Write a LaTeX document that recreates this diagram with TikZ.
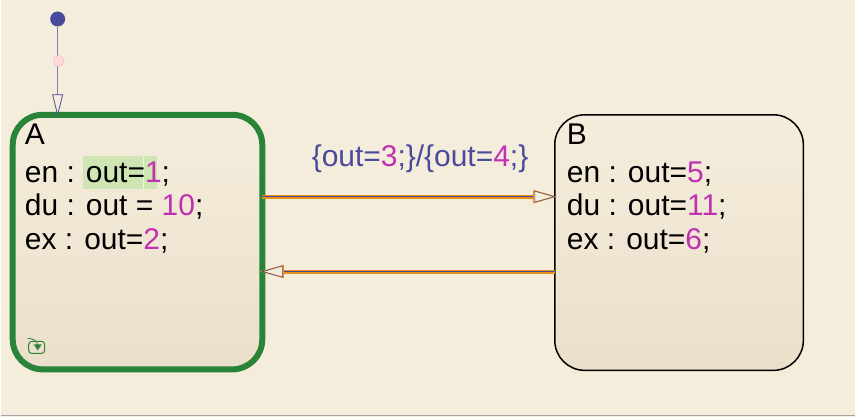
\documentclass[tikz,border=0pt]{standalone}
\usepackage{fontspec}
\setmainfont{Liberation Sans}
\usetikzlibrary{arrows.meta}
\definecolor{bg}{HTML}{F5EDDC}
\definecolor{bot}{HTML}{EADFCA}
\definecolor{sgreen}{HTML}{2A8438}
\definecolor{mag}{HTML}{C030B0}
\definecolor{tblue}{HTML}{4A4A9C}
\definecolor{orng}{HTML}{E8901A}
\definecolor{hl}{HTML}{CFE6B4}
\newcommand{\nm}[1]{\textcolor{mag}{#1}}
\begin{document}
\begin{tikzpicture}[x=1pt,y=-1pt,
  state/.style={rounded corners=30pt, top color=bg, bottom color=bot},
  txt/.style={anchor=base west, font=\fontsize{30}{34}\selectfont, inner sep=0pt},
  trans/.style={draw=orng, line width=4pt},
  transc/.style={draw=tblue, line width=1.3pt}]
\fill[bg] (0,0) rectangle (856,418);
\draw[gray!70, line width=1.5pt] (0,416) -- (856,416);
% states
\path[state] (12,115) rectangle (262,370);
\draw[sgreen, line width=6pt, rounded corners=30pt] (12,115) rectangle (262,370);
\path[state,draw=black,line width=1.5pt] (555,115) rectangle (804,371);
\coordinate (Atop) at (57,115);
\coordinate (A1) at (262,197); \coordinate (B1) at (555,197);
\coordinate (A2) at (262,272); \coordinate (B2) at (555,272);
% text A
\fill[hl] (82,156) rectangle (157,189);
\draw[white!60!hl, line width=1pt] (143,156) -- (143,189);
\node[txt] (a0) at (24,145) {A};
\node[txt] (a1) at (24,183) {en : out=\nm{1};};
\node[txt] (a2) at (24,216) {du : out = \nm{10};};
\node[txt] (a3) at (24,250) {ex : out=\nm{2};};
\node[txt] (b0) at (567,145) {B};
\node[txt] (b1) at (567,183) {en : out=\nm{5};};
\node[txt] (b2) at (567,216) {du : out=\nm{11};};
\node[txt] (b3) at (567,250) {ex : out=\nm{6};};
\node[txt, anchor=base, text=tblue] (lab) at (420,167) {\{out=\nm{3};\}/\{out=\nm{4};\}};
% transitions
\draw[trans] (A1) -- ++(272,0);
\draw[transc] (A1) -- ++(272,0);
\draw[draw=orng,line width=1.2pt,fill=bg] (B1) -- ++(-21,-6) -- ++(0,12) -- cycle;
\draw[tblue,line width=0.5pt] (B1) -- ++(-20,-5.5) -- ++(0,11) -- cycle;
\draw[trans] (B2) -- ++(-272,0);
\draw[transc] (B2) -- ++(-272,0);
\draw[draw=orng,line width=1.2pt,fill=bg] (A2) -- ++(21,-6) -- ++(0,12) -- cycle;
\draw[tblue,line width=0.5pt] (A2) -- ++(20,-5.5) -- ++(0,11) -- cycle;
% default transition
\node[circle, fill=tblue, inner sep=0pt, minimum size=15pt] (dot) at (57,19) {};
\draw[tblue!70, line width=1pt] (dot) -- (57,103);
\draw[tblue, line width=0.8pt, fill=bg] (Atop) -- (52,95) -- (62,95) -- cycle;
\node[circle, draw=red!30, fill=red!15, inner sep=0pt, minimum size=11pt] (mid) at (58,61) {};
% entry icon
\draw[sgreen, line width=1pt, rounded corners=3pt] (28,342) rectangle (44,354);
\draw[sgreen, line width=0.8pt] (27,339) to[out=0,in=90] (37,346);
\fill[sgreen] (33,345) -- (41,345) -- (37,351) -- cycle;
\end{tikzpicture}
\end{document}
